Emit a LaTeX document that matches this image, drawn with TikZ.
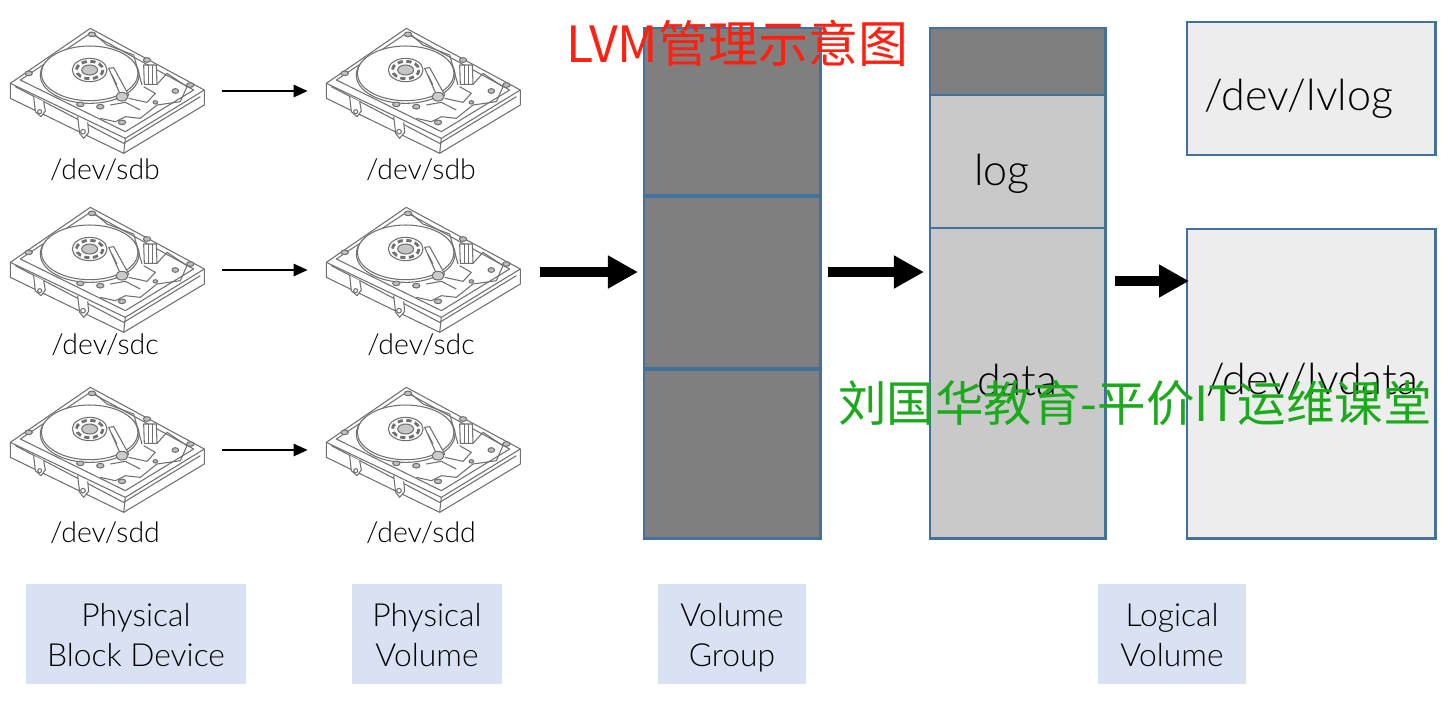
\documentclass[tikz,border=0pt]{standalone}
\usepackage{fontspec}
\setmainfont{Lato Light}
\newfontfamily\cjk{Noto Sans CJK SC}
\usetikzlibrary{arrows.meta}
\definecolor{edgeblue}{HTML}{41719C}
\definecolor{tagblue}{HTML}{D9E2F3}
\definecolor{darkvol}{HTML}{7F7F7F}
\definecolor{midvol}{HTML}{C9C9C9}
\definecolor{lightvol}{HTML}{EDEDED}
\definecolor{titlered}{HTML}{FF2010}
\definecolor{markgreen}{HTML}{1BAA1B}
\definecolor{diskline}{HTML}{707070}
\newcommand{\tagtop}{\rule{0pt}{10.7pt}}
\tikzset{
  volbox/.style={draw=edgeblue,line width=.8pt,anchor=north west,inner sep=0pt,outer sep=0pt},
  tagbox/.style={fill=tagblue,align=center,inner sep=0pt,font=\fontsize{9.05}{11.4}\selectfont},
  devlabel/.style={font=\fontsize{8.1}{9}\selectfont,inner sep=0pt},
  vollabel/.style={font=\fontsize{12.25}{14}\selectfont,inner sep=0pt},
  diskbox/.style={minimum width=1.95cm,minimum height=1.25cm,inner sep=0pt},
  thinarrow/.style={line width=.7pt,-{Triangle[length=.14cm,width=.12cm]},shorten <=.17cm,shorten >=.17cm},
  bigarrow/.style={line width=2.7pt,-{Triangle[length=.3cm,width=.31cm]}},
  hdd/.pic={
    \begin{scope}[scale=1/3,shift={(-320,-225)},draw=diskline,line width=.3pt,line join=round]
      % case
      \draw[fill=white] (30,205) -- (30,250) -- (370,415) -- (612,270) -- (612,225)
        -- (270,40) -- cycle;
      \draw (30,205) -- (375,370) -- (612,225);
      \draw (375,370) -- (370,415);
      \draw (60,195) -- (270,55) -- (580,225) -- (375,350) -- cycle;
      \draw (45,215) -- (370,385) -- (600,245);
      % ears
      \draw[fill=white] (100,245) -- (105,290) -- (122,305) -- (135,288) -- (130,260);
      \draw[fill=white] (232,305) -- (238,355) -- (250,370) -- (265,352) -- (262,322);
      \draw (118,290) circle (6);
      \draw (248,350) circle (7);
      % platter
      \draw[fill=white] (268,180) ellipse [x radius=148,y radius=85];
      \draw[fill=white] (268,175) ellipse [x radius=145,y radius=82];
      \draw (268,165) ellipse [x radius=52,y radius=35];
      \draw[line width=.8pt,dash pattern=on 1.5pt off 1pt] (268,165) ellipse [x radius=40,y radius=26];
      \draw[fill=gray!45] (268,165) ellipse [x radius=24,y radius=15];
      % screws
      \foreach \sx/\sy in {85/175,240/268,365/322,570/210,440/135,275/58,300/275}
        \draw[fill=gray!50] (\sx,\sy) ellipse [x radius=11,y radius=7];
      % actuator
      \draw[fill=white] (325,160) -- (340,158) -- (385,240) -- (365,250) -- cycle;
      \draw[fill=gray!40] (365,245) ellipse [x radius=18,y radius=13];
      \draw (335,180) -- (350,210);
      \draw[fill=white] (430,150) -- (468,150) -- (470,208) -- (432,208) -- cycle;
      \draw (445,150) -- (445,208) (457,150) -- (457,208);
      % board
      \draw (300,310) -- (345,320) -- (375,305) -- (420,310) -- (470,270) -- (540,260)
        -- (560,215) -- (500,175) -- (470,208);
      \draw (385,250) -- (440,262) -- (465,235) -- (430,215);
      \draw (330,270) -- (375,262) -- (420,285);
      \draw[fill=gray!50] (525,228) ellipse [x radius=10,y radius=7];
      \draw[fill=gray!50] (465,262) ellipse [x radius=7,y radius=5];
      \draw (285,60) -- (320,90) -- (400,120) -- (425,210);
    \end{scope}
  }
}
\begin{document}
\begin{tikzpicture}[x=.01cm,y=-.01cm]
\useasboundingbox (0,0) rectangle (1449,702);
%
\node[diskbox] (pdb) at (107,91) {};
\node[diskbox] (pdc) at (107,270) {};
\node[diskbox] (pdd) at (107,450) {};
\node[diskbox] (pvb) at (423,91) {};
\node[diskbox] (pvc) at (423,270) {};
\node[diskbox] (pvd) at (423,450) {};
\foreach \d in {pdb,pdc,pdd,pvb,pvc,pvd}
  \pic at ([yshift=.01cm]\d) {hdd};
%
\node[devlabel] (pdbname) at (105,170) {/dev/sdb};
\node[devlabel] (pdcname) at (105,345) {/dev/sdc};
\node[devlabel] (pddname) at (105,533) {/dev/sdd};
\node[devlabel] (pvbname) at (421,170) {/dev/sdb};
\node[devlabel] (pvcname) at (421,345) {/dev/sdc};
\node[devlabel] (pvdname) at (421,533) {/dev/sdd};
%
\draw[thinarrow] (pdb) -- (pvb);
\draw[thinarrow] (pdc) -- (pvc);
\draw[thinarrow] (pdd) -- (pvd);
%
\node[volbox,fill=darkvol,minimum width=1.76cm,minimum height=1.68cm] (vga) at (644,28) {};
\node[volbox,fill=darkvol,minimum width=1.76cm,minimum height=1.73cm] (vgb) at (644,196) {};
\node[volbox,fill=darkvol,minimum width=1.76cm,minimum height=1.69cm] (vgc) at (644,369) {};
\draw[edgeblue,line width=1.1pt] (vgb.north west) -- (vgb.north east);
\draw[edgeblue,line width=1.1pt] (vgc.north west) -- (vgc.north east);
%
\node[volbox,fill=darkvol,minimum width=1.75cm,minimum height=.67cm] (lvfree) at (930,28) {};
\node[volbox,fill=midvol,minimum width=1.75cm,minimum height=1.33cm] (lvlog) at (930,95) {};
\node[volbox,fill=midvol,minimum width=1.75cm,minimum height=3.10cm] (lvdata) at (930,228) {};
%
\node[volbox,fill=lightvol,minimum width=2.48cm,minimum height=1.33cm] (devlog) at (1187,22) {};
\node[volbox,fill=lightvol,minimum width=2.48cm,minimum height=3.09cm] (devdata) at (1187,229) {};
%
\node[vollabel] (logname) at (1002,174) {log};
\node[vollabel] (dataname) at (1017,380) {data};
\node[vollabel] (lvlogname) at (1299,99) {/dev/lvlog};
\node[vollabel] (lvdataname) at (1312,380) {/dev/lvdata};
%
\coordinate (vgin) at (540,272);
\coordinate (lvin) at (828,272);
\coordinate (devin) at (1115,281);
\draw[bigarrow] (vgin) -- ([xshift=-.06cm]vgin -| vgb.west);
\draw[bigarrow] (lvin) -- ([xshift=-.06cm]lvin -| lvdata.west);
\draw[bigarrow] (devin) -- ([xshift=.02cm]devin -| devdata.west);
%
\node[tagbox,minimum width=2.19cm,minimum height=.99cm] (tagpd) at (136,634) {\tagtop Physical\strut\\Block Device\strut};
\node[tagbox,minimum width=1.50cm,minimum height=.99cm] (tagpv) at (427,634) {\tagtop Physical\strut\\Volume\strut};
\node[tagbox,minimum width=1.47cm,minimum height=.99cm] (tagvg) at (732,634) {\tagtop Volume\strut\\Group\strut};
\node[tagbox,minimum width=1.48cm,minimum height=.99cm] (taglv) at (1172,634) {\tagtop Logical\strut\\Volume\strut};
%
\node[text=titlered,font=\cjk\fontsize{14.2}{16}\selectfont,inner sep=0pt] (title) at (737,43) {LVM管理示意图};
\node[text=markgreen,font=\cjk\fontsize{13.8}{16}\selectfont,inner sep=0pt] (watermark) at (1135,403) {刘国华教育-平价IT运维课堂};
\end{tikzpicture}
\end{document}
